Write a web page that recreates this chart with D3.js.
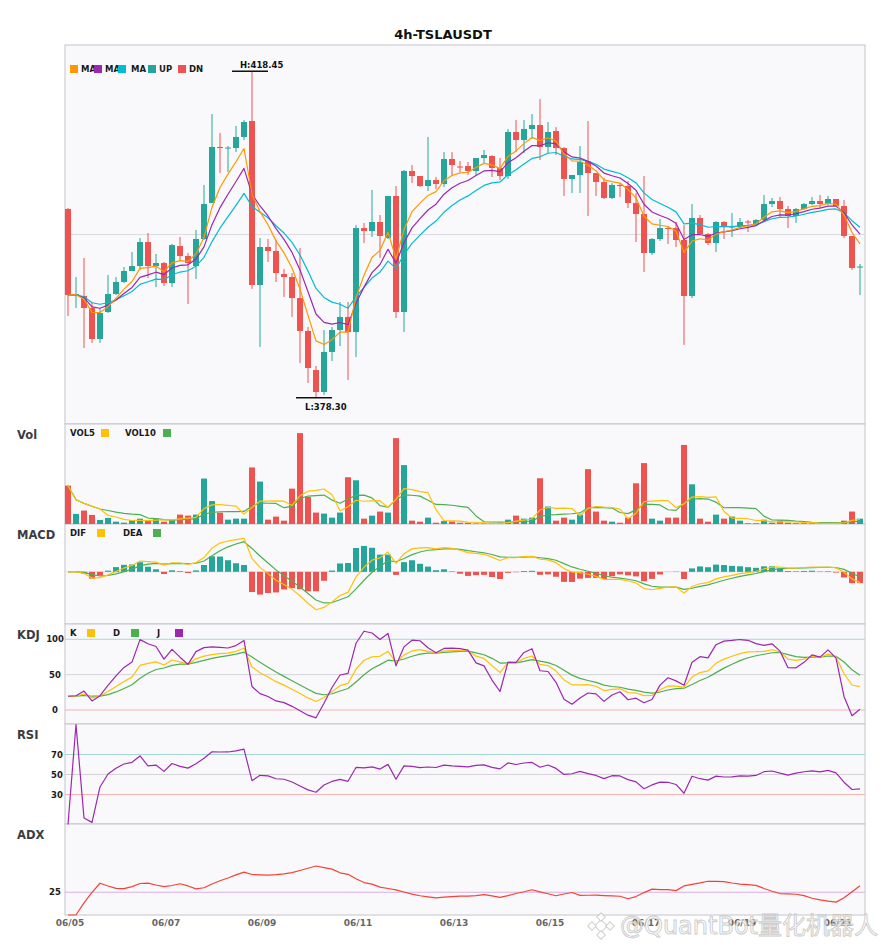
<!DOCTYPE html>
<html>
<head>
<meta charset="utf-8">
<script src="https://cdn.jsdelivr.net/npm/d3@7"></script>
<style>
  body { margin: 0; background: #fff; }
  text { font-family: "DejaVu Sans", sans-serif; }
</style>
</head>
<body>
<svg id="chart" width="885" height="950"></svg>
<script>
// 4h candles, TSLAUSDT
var opens = [401.51,390.88,390.82,389.34,385.53,388.85,391.06,392.54,393.89,394.50,
  397.45,394.50,394.87,392.41,396.96,395.73,394.50,397.82,402.25,409.13,
  408.94,409.00,410.36,412.32,392.17,396.84,396.35,393.52,393.15,390.57,
  386.52,381.72,379.02,383.94,386.64,388.24,386.39,399.17,398.80,399.91,
  397.94,403.11,388.85,406.18,405.56,404.33,405.07,404.58,407.65,406.73,
  406.79,406.18,407.77,408.02,406.55,405.56,410.97,409.99,411.34,411.83,
  409.13,411.09,409.00,405.20,405.69,407.41,405.93,404.83,402.86,404.46,
  404.33,402.25,400.89,396.10,397.82,399.17,399.17,397.70,390.82,400.40,
  398.44,397.33,399.91,399.24,399.30,399.97,399.67,400.16,402.12,402.49,
  401.51,400.65,401.51,402.12,402.49,402.12,402.74,401.88,398.19,394.32];
var highs = [401.63,393.15,395.49,390.08,389.34,393.40,393.15,394.38,396.22,397.94,
  398.56,395.98,395.00,397.21,398.07,396.10,398.93,404.46,413.18,410.85,
  409.25,411.71,412.44,418.45,397.94,397.82,397.70,394.14,393.64,396.72,
  387.01,382.22,386.64,387.01,390.08,390.08,399.54,399.79,403.84,400.77,
  403.11,404.33,406.30,406.91,405.56,410.36,405.44,408.51,408.51,407.41,
  407.28,407.77,408.76,408.14,407.77,411.34,412.44,412.44,413.18,415.02,
  412.20,411.58,409.13,405.69,409.25,412.32,405.93,405.32,404.70,404.70,
  404.95,403.47,405.56,397.94,400.28,399.30,399.91,399.54,402.12,400.77,
  398.56,400.03,400.03,401.02,400.40,400.16,400.28,403.23,402.86,402.98,
  401.88,401.63,402.25,402.98,403.23,403.11,402.74,402.61,398.19,394.75];
var lows = [388.36,389.34,384.43,385.04,385.04,388.73,390.94,392.41,393.89,394.01,
  393.03,391.92,392.05,391.92,395.12,389.83,392.91,397.70,402.25,405.93,
  406.05,408.51,409.99,391.68,384.55,395.00,392.54,390.69,388.24,382.58,
  380.13,378.30,378.65,382.83,384.67,380.50,383.32,397.33,398.07,395.49,
  397.82,388.11,386.39,404.70,404.21,403.72,403.97,404.21,405.56,406.05,
  405.69,405.69,407.16,405.44,405.07,405.20,408.51,408.39,410.11,407.53,
  408.39,408.14,403.11,403.47,403.47,400.65,403.11,402.74,402.74,402.98,
  401.63,397.45,393.77,395.86,397.58,397.21,396.84,384.80,390.57,398.31,
  397.08,396.22,397.82,398.07,399.30,398.68,399.54,399.91,401.75,400.53,
  399.17,399.79,401.39,402.00,401.63,402.00,401.88,397.94,394.01,390.94];
var closes = [390.94,391.06,389.34,385.53,388.73,391.06,392.54,393.89,394.50,397.45,
  394.50,394.87,392.41,397.08,395.73,394.87,397.82,402.12,409.13,409.00,
  409.06,410.36,412.20,392.17,396.84,396.35,393.64,393.15,390.57,386.52,
  381.97,379.02,383.94,386.64,388.24,386.39,399.17,398.80,399.91,398.19,
  403.11,388.85,406.18,405.56,404.33,405.07,404.58,407.65,406.91,406.61,
  406.18,407.77,408.14,406.55,405.56,410.97,409.99,411.34,411.83,409.13,
  410.97,409.00,405.20,405.69,407.28,405.93,404.83,402.86,404.46,404.33,
  402.25,400.89,396.10,397.82,399.17,399.05,397.70,390.82,400.40,398.44,
  397.33,399.91,399.30,399.36,399.91,399.85,400.16,402.12,402.49,401.51,
  400.65,401.51,402.12,402.49,402.12,402.74,401.88,398.19,394.26,394.44];
var volumes = [38,10,13.3,9,4,6,2.3,1.3,3.7,5.3,
  4,5.3,2.3,4,9.3,8.3,9.3,45,22.7,11.3,
  4.3,5.3,5.3,56,42,4.3,7.3,3.3,35,90,
  26.7,11.3,10.3,6.3,11.3,46.3,43.3,5.3,8.3,12.3,
  11.3,85,58.3,3.3,2.3,6.3,1.3,3,2.5,1.3,
  1.3,0.5,0.5,0.7,0.7,4.3,8.3,5.3,6.3,45.3,
  17.3,3.3,6.3,4.3,9.3,54.3,12.3,3.3,2.3,1.3,
  6.3,40.3,60.3,5.3,3.3,6.3,6.3,78.3,39.3,5.3,
  2.3,9.3,5.3,7.3,3.3,0.7,0.7,4.3,1.3,3.3,
  1.3,0.7,0.7,0.7,0.7,0.7,0.7,3.3,12.3,5.3];
var tickIndex = [0,12,24,36,48,60,72,84,96];
var tickLabels = ["06/05","06/07","06/09","06/11","06/13","06/15","06/17","06/19","06/21"];
var kdjTicks = [100,50,0];
var rsiTicks = [70,50,30];
var adxTicks = [25];
var maPeriods = [5,8,13];
var macdParams = [8,10,4];

var UP = "#26a69a", DN = "#ef5350";
var svg = d3.select("#chart");
var n = closes.length;

// ---- indicators, computed from the candles ----
function ema(arr, p) {
  var a = 2 / (p + 1), out = [];
  arr.forEach(function(v, i) { out.push(i ? out[i-1] + a * (v - out[i-1]) : v); });
  return out;
}
function sma(arr, p) {
  return arr.map(function(v, i) { return d3.mean(arr.slice(Math.max(0, i - p + 1), i + 1)); });
}
var ma5 = ema(closes, maPeriods[0]), ma8 = ema(closes, maPeriods[1]), ma13 = ema(closes, maPeriods[2]);
var vol5 = sma(volumes, 5), vol10 = sma(volumes, 10);

var eF = ema(closes, macdParams[0]), eS = ema(closes, macdParams[1]);
var dif = eF.map(function(v, i) { return v - eS[i]; });
var dea = ema(dif, macdParams[2]);
var hist = dif.map(function(v, i) { return 2 * (v - dea[i]); });

var kv = [], dv = [], jv = [];
closes.forEach(function(c, i) {
  var lo = d3.min(lows.slice(Math.max(0, i - 8), i + 1));
  var hi = d3.max(highs.slice(Math.max(0, i - 8), i + 1));
  var rsv = hi > lo ? (c - lo) / (hi - lo) * 100 : 50;
  var k = i ? kv[i-1] * 2 / 3 + rsv / 3 : rsv;
  var d = i ? dv[i-1] * 2 / 3 + k / 3 : k;
  kv.push(k); dv.push(d); jv.push(3 * k - 2 * d);
});

// Wilder RSI(14), seeded with a plain mean while fewer than 14 changes exist
var rsi = [0];
(function() {
  var ag = 0, al = 0;
  for (var i = 1; i < n; i++) {
    var d = closes[i] - closes[i-1], g = d > 0 ? d : 0, l = d < 0 ? -d : 0;
    if (i <= 14) { ag = (ag * (i - 1) + g) / i; al = (al * (i - 1) + l) / i; }
    else { ag = (ag * 13 + g) / 14; al = (al * 13 + l) / 14; }
    rsi.push(ag + al === 0 ? 0 : 100 * ag / (ag + al));
  }
})();

var adx = [];
(function() {
  var a = 2 / 15, sTR, sP, sM, ax;
  for (var i = 0; i < n; i++) {
    var tr = highs[i] - lows[i], up = 0, dn = 0;
    if (i) {
      tr = Math.max(tr, Math.abs(highs[i] - closes[i-1]), Math.abs(lows[i] - closes[i-1]));
      up = highs[i] - highs[i-1]; dn = lows[i-1] - lows[i];
    }
    var pdm = (up > dn && up > 0) ? up : 0, mdm = (dn > up && dn > 0) ? dn : 0;
    if (i === 0) { sTR = tr; sP = pdm; sM = mdm; }
    else { sTR += a * (tr - sTR); sP += a * (pdm - sP); sM += a * (mdm - sM); }
    var pdi = 100 * sP / sTR, mdi = 100 * sM / sTR;
    var dx = (pdi + mdi) ? 100 * Math.abs(pdi - mdi) / (pdi + mdi) : 0;
    ax = i ? ax + a * (dx - ax) : dx;
    adx.push(ax);
  }
})();

// ---- layout ----
var x = d3.scaleBand().domain(d3.range(n)).range([64, 864]);
function cx(i) { return x(i) + x.bandwidth() / 2; }
var L = 65, R = 865;
var panels = [
  {name: "", top: 45, bottom: 424},
  {name: "Vol", top: 424, bottom: 524},
  {name: "MACD", top: 524, bottom: 624},
  {name: "KDJ", top: 624, bottom: 724},
  {name: "RSI", top: 724, bottom: 824},
  {name: "ADX", top: 824, bottom: 915}
];
panels.forEach(function(p) {
  svg.append("rect").attr("x", L).attr("y", p.top).attr("width", R - L).attr("height", p.bottom - p.top)
    .attr("fill", "#f9f9fb").attr("stroke", "#c4c4cc").attr("stroke-width", 1);
  if (p.name) svg.append("text").attr("x", 17).attr("y", p.top + 15).text(p.name)
    .attr("font-size", 11.5).attr("font-weight", "bold").attr("fill", "#3c3c40");
});

svg.append("text").attr("x", 443).attr("y", 39).attr("text-anchor", "middle")
  .attr("font-size", 13).attr("font-weight", "bold").attr("fill", "#111").text("4h-TSLAUSDT");

function drawLine(data, yS, color, w) {
  svg.append("path").datum(data)
    .attr("fill", "none").attr("stroke", color).attr("stroke-width", w || 1.2)
    .attr("stroke-linejoin", "round")
    .attr("d", d3.line().x(function(d, i) { return cx(i); }).y(function(d) { return yS(d); }));
}
function hline(yv, color) {
  svg.append("line").attr("x1", L).attr("x2", R).attr("y1", yv).attr("y2", yv)
    .attr("stroke", color).attr("stroke-width", 1);
}
function legend(items, cyy) {
  items.forEach(function(it) {
    svg.append("rect").attr("x", it.sq).attr("y", cyy - 4).attr("width", 8).attr("height", 8).attr("fill", it.c);
    svg.append("text").attr("x", it.tx).attr("y", cyy + 3).text(it.t)
      .attr("font-size", 8.5).attr("font-weight", "bold").attr("fill", "#1a1a1a");
  });
}
function axisLabels(ticks, yS, xPos) {
  ticks.forEach(function(t) {
    svg.append("text").attr("x", xPos).attr("y", yS(t) + 3).attr("text-anchor", "middle")
      .attr("font-size", 8.5).attr("font-weight", "bold").attr("fill", "#1a1a1a").text(t);
  });
}
function isUp(i) { return closes[i] >= opens[i]; }

// ---- main candles ----
var hiP = d3.max(highs), loP = d3.min(lows), rP = hiP - loP;
var y = d3.scaleLinear().domain([loP - 0.08 * rP, hiP + 0.08 * rP]).range([424, 45]);
hline((45 + 424) / 2, "#dcdce0");

var cg = svg.append("g");
d3.range(n).forEach(function(i) {
  var col = isUp(i) ? UP : DN;
  cg.append("line").attr("x1", cx(i)).attr("x2", cx(i)).attr("y1", y(highs[i])).attr("y2", y(lows[i]))
    .attr("stroke", col).attr("stroke-width", 1);
  var y0 = y(Math.max(opens[i], closes[i])), y1 = y(Math.min(opens[i], closes[i]));
  cg.append("rect").attr("x", cx(i) - 3).attr("width", 6).attr("y", y0).attr("height", Math.max(1, y1 - y0))
    .attr("fill", col);
});
drawLine(ma13, y, "#00bcd4");
drawLine(ma8, y, "#9c27b0");
drawLine(ma5, y, "#ff9800");

var iH = highs.indexOf(hiP), iL = lows.indexOf(loP);
svg.append("line").attr("x1", cx(iH) - 20).attr("x2", cx(iH) + 16).attr("y1", y(hiP)).attr("y2", y(hiP))
  .attr("stroke", "#111").attr("stroke-width", 1.5);
svg.append("text").attr("x", cx(iH) - 12).attr("y", y(hiP) - 3).text("H:" + hiP.toFixed(2))
  .attr("font-size", 8.5).attr("font-weight", "bold").attr("fill", "#111");
svg.append("line").attr("x1", cx(iL) - 20).attr("x2", cx(iL) + 16).attr("y1", y(loP)).attr("y2", y(loP))
  .attr("stroke", "#111").attr("stroke-width", 1.5);
svg.append("text").attr("x", cx(iL) - 11).attr("y", y(loP) + 12).text("L:" + loP.toFixed(2))
  .attr("font-size", 8.5).attr("font-weight", "bold").attr("fill", "#111");

legend([
  {c: "#ff9800", t: "MA", sq: 70, tx: 81},
  {c: "#9c27b0", t: "MA", sq: 94, tx: 105},
  {c: "#00bcd4", t: "MA", sq: 118, tx: 131},
  {c: UP, t: "UP", sq: 148, tx: 159},
  {c: DN, t: "DN", sq: 178, tx: 189}
], 69);

// ---- volume ----
var yv = d3.scaleLinear().domain([0, d3.max(volumes) * 1.1]).range([524, 424]);
d3.range(n).forEach(function(i) {
  svg.append("rect").attr("x", cx(i) - 3).attr("width", 6).attr("y", yv(volumes[i]))
    .attr("height", 524 - yv(volumes[i])).attr("fill", isUp(i) ? UP : DN);
});
drawLine(vol10, yv, "#4caf50");
drawLine(vol5, yv, "#ffc107");
legend([
  {c: "#ffc107", t: "VOL5", sq: 101, tx: 70},
  {c: "#4caf50", t: "VOL10", sq: 163, tx: 125}
], 433);

// ---- MACD ----
var mAll = dif.concat(dea, hist);
var mLo = d3.min(mAll), mHi = d3.max(mAll), mR = mHi - mLo;
var ym = d3.scaleLinear().domain([mLo - 0.2 * mR, mHi + 0.2 * mR]).range([624, 524]);
hline(ym(0), "#dcdce0");
d3.range(n).forEach(function(i) {
  var h = hist[i];
  svg.append("rect").attr("x", cx(i) - 3).attr("width", 6)
    .attr("y", ym(Math.max(0, h))).attr("height", Math.abs(ym(h) - ym(0)))
    .attr("fill", h >= 0 ? UP : DN);
});
drawLine(dea, ym, "#4caf50");
drawLine(dif, ym, "#ffc107");
legend([
  {c: "#ffc107", t: "DIF", sq: 97, tx: 70},
  {c: "#4caf50", t: "DEA", sq: 153, tx: 123}
], 533);

// ---- KDJ ----
var yk = d3.scaleLinear().domain([-19.8, 121.6]).range([724, 624]);
hline(yk(100), "#a6d8d4");
hline(yk(50), "#d4d4d8");
hline(yk(0), "#f5b4b4");
drawLine(dv, yk, "#4caf50");
drawLine(kv, yk, "#ffc107");
drawLine(jv, yk, "#9c27b0");
axisLabels(kdjTicks, yk, 55);
legend([
  {c: "#ffc107", t: "K", sq: 87, tx: 70},
  {c: "#4caf50", t: "D", sq: 131, tx: 113},
  {c: "#9c27b0", t: "J", sq: 175, tx: 157}
], 633);

// ---- RSI ----
var yr = d3.scaleLinear().domain([0, 100]).range([824.5, 724.5]);
hline(yr(70), "#a6d8d4");
hline(yr(50), "#d4d4d8");
hline(yr(30), "#f5b4b4");
drawLine(rsi, yr, "#9c27b0");
axisLabels(rsiTicks, yr, 57);

// ---- ADX ----
var ya = d3.scaleLinear().domain([0, 100]).range([915, 824]);
hline(ya(25), "#dcb0e4");
drawLine(adx, ya, "#f44336");
axisLabels(adxTicks, ya, 55);

// ---- x axis ----
tickIndex.forEach(function(ti, k) {
  svg.append("text").attr("x", cx(ti) + 2).attr("y", 926).attr("text-anchor", "middle")
    .attr("font-size", 9).attr("font-weight", "bold").attr("fill", "#666").text(tickLabels[k]);
});

// watermark
var wm = svg.append("g").attr("opacity", 0.8);
[[0, 0, 4.5], [-9, 0, 3], [9, 0, 3], [0, -9, 3], [0, 9, 3]].forEach(function(d) {
  wm.append("rect").attr("x", -d[2]).attr("y", -d[2]).attr("width", 2 * d[2]).attr("height", 2 * d[2])
    .attr("transform", "translate(" + (601 + d[0]) + "," + (926 + d[1]) + ") rotate(45)")
    .attr("fill", "#fff").attr("stroke", "#c4c4c4").attr("stroke-width", 1);
});
wm.append("text").attr("x", 620).attr("y", 934).text("@QuantBot量化机器人")
  .attr("font-size", 24).attr("fill", "#fff").attr("stroke", "#c0c0c0").attr("stroke-width", 0.9)
  .style("font-family", "'DejaVu Sans', 'Noto Sans CJK SC', sans-serif");
</script>
</body>
</html>
